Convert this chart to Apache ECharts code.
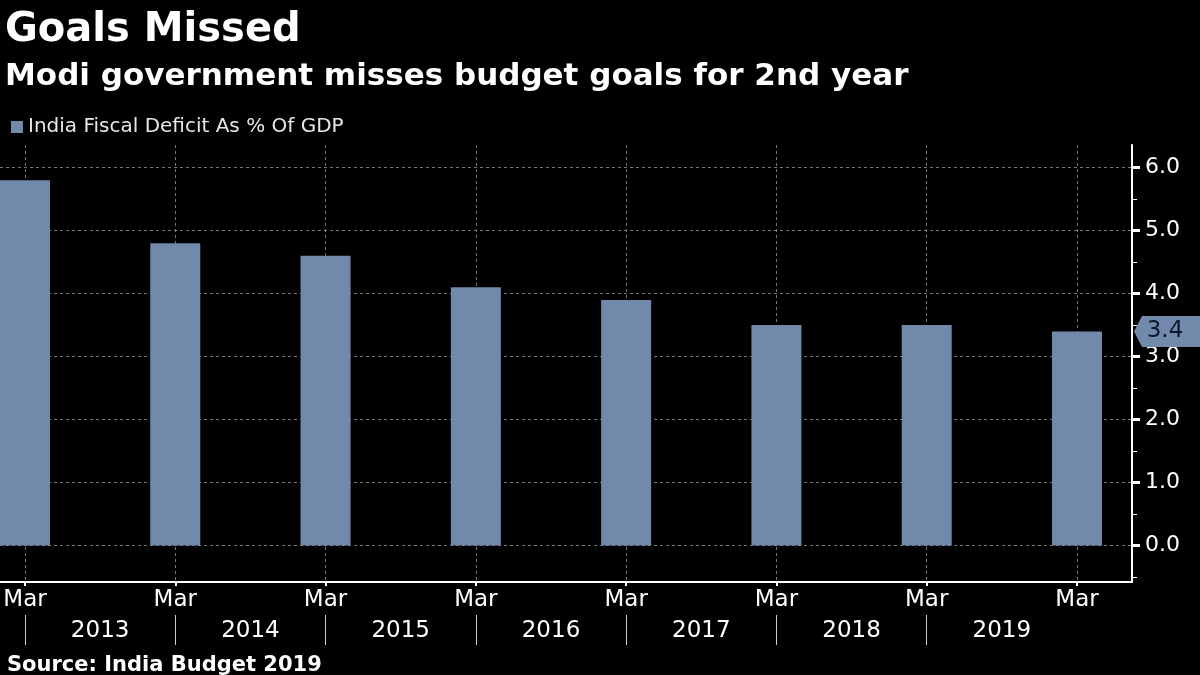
<!DOCTYPE html>
<html>
<head>
<meta charset="utf-8">
<script src="https://cdn.jsdelivr.net/npm/echarts@6/dist/echarts.min.js"></script>
<style>
html,body{margin:0;padding:0;background:#000;}
#chart{width:1200px;height:675px;}
</style>
</head>
<body>
<div id="chart"></div>
<script>
// ---- data ----
const tickLabels = ['Mar', 'Mar', 'Mar', 'Mar', 'Mar', 'Mar', 'Mar', 'Mar'];
const years = ['2013', '2014', '2015', '2016', '2017', '2018', '2019'];
const deficit = [5.8, 4.8, 4.6, 4.1, 3.9, 3.5, 3.5, 3.4];
const yTickValues = [0, 1, 2, 3, 4, 5, 6];
const seriesName = 'India Fiscal Deficit As % Of GDP';

// ---- layout helpers ----
const FONT = 'DejaVu Sans';
const BAR = '#7189aa';
const xMin = -0.1663, xMax = 7.366;
const yMin = -0.58, yMax = 6.36;
const idx = tickLabels.map((_, i) => i);
const sepIdx = years.map((_, i) => i);
const yearPos = years.map((_, i) => i + 0.5);
const last = deficit[deficit.length - 1];

const chart = echarts.init(document.getElementById('chart'), null, {renderer: 'canvas'});
chart.setOption({
  backgroundColor: '#000',
  animation: false,
  title: [
    {text: 'Goals Missed', left: 0, top: 6,
     textStyle: {color: '#fff', fontSize: 40, fontWeight: 'bold', fontFamily: FONT}},
    {text: 'Modi government misses budget goals for 2nd year', left: 0, top: 56,
     textStyle: {color: '#fff', fontSize: 31, fontWeight: 'bold', fontFamily: FONT}},
    {text: 'Source: India Budget 2019', left: 2, top: 650,
     textStyle: {color: '#fff', fontSize: 21, fontWeight: 'bold', fontFamily: FONT}}
  ],
  legend: {
    left: 6, top: 112, icon: 'rect', itemWidth: 12, itemHeight: 12,
    textStyle: {color: '#e6e6e6', fontSize: 20, fontFamily: FONT},
    data: [seriesName]
  },
  grid: {left: 0, right: 68, top: 145, bottom: 93, containLabel: false},
  xAxis: [
    {
      type: 'value', min: xMin, max: xMax, position: 'bottom',
      axisLine: {show: true, onZero: false, lineStyle: {color: '#fff', width: 2}},
      axisTick: {show: true, customValues: idx, length: 4, lineStyle: {color: '#fff', width: 2}},
      axisLabel: {show: true, customValues: idx, formatter: v => tickLabels[Math.round(v)] || '',
        color: '#fff', fontSize: 23, fontFamily: FONT, margin: 7},
      splitLine: {show: true, showMinLine: true, showMaxLine: true,
        lineStyle: {color: '#777', type: [3, 3], width: 1}},
      splitNumber: 7
    },
    {
      type: 'value', min: xMin, max: xMax, position: 'bottom', offset: 33,
      axisLine: {show: false, onZero: false},
      axisTick: {show: true, customValues: sepIdx, length: 30, inside: false,
        lineStyle: {color: '#ccc', width: 1}},
      axisLabel: {show: true, customValues: yearPos, formatter: v => years[Math.floor(v)] || '',
        color: '#fff', fontSize: 23, fontFamily: FONT, margin: 5},
      splitLine: {show: false}
    }
  ],
  yAxis: {
    type: 'value', position: 'right', min: yMin, max: yMax, splitNumber: 7,
    axisLine: {show: true, onZero: false, lineStyle: {color: '#fff', width: 2}},
    axisTick: {show: true, customValues: yTickValues, length: 8, lineStyle: {color: '#fff', width: 3}},
    minorTick: {show: true, splitNumber: 2, length: 5, lineStyle: {color: '#fff', width: 1}},
    axisLabel: {show: true, customValues: yTickValues, formatter: v => v.toFixed(1),
      color: '#fff', fontSize: 22, fontFamily: FONT, margin: 13},
    splitLine: {show: true, showMinLine: true, showMaxLine: true,
      lineStyle: {color: '#777', type: [3, 3], width: 1}}
  },
  series: [{
    name: seriesName,
    type: 'bar',
    xAxisIndex: 0,
    barWidth: 50,
    itemStyle: {color: BAR},
    data: deficit.map((v, i) => [i, v]),
    markPoint: {
      silent: true,
      data: [{
        coord: [xMax, last],
        symbol: 'path://M0,15.5 L8,0 L66,0 L66,31 L8,31 Z',
        symbolSize: [66, 31],
        symbolKeepAspect: false,
        symbolOffset: [35, 0],
        itemStyle: {color: BAR},
        label: {show: true, position: 'inside', formatter: last.toFixed(1), offset: [-2, 0],
          color: '#0b1a2e', fontSize: 23, fontFamily: FONT}
      }]
    }
  }]
});
</script>
</body>
</html>
